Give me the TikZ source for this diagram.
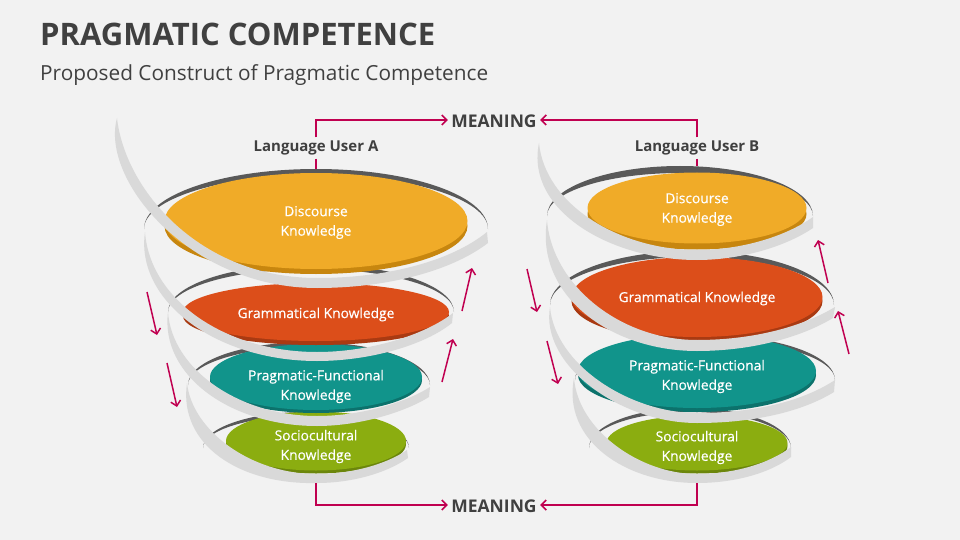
\documentclass[tikz,border=0pt]{standalone}
\usepackage{fontspec}
\setmainfont{Open Sans}
\newfontfamily\diskfont[FakeBold=0.5]{Open Sans}
\usetikzlibrary{shapes.geometric,arrows.meta}
\definecolor{paper}{HTML}{F2F2F2}
\definecolor{ink}{HTML}{404040}
\definecolor{ring}{HTML}{D9D9D9}
\definecolor{ringback}{HTML}{595959}
\definecolor{link}{HTML}{C00050}
\definecolor{orangetop}{HTML}{F0AB28}
\definecolor{orangeside}{HTML}{C7860F}
\definecolor{redtop}{HTML}{DC4E1A}
\definecolor{redside}{HTML}{A93A12}
\definecolor{tealtop}{HTML}{11948B}
\definecolor{tealside}{HTML}{0C726C}
\definecolor{greentop}{HTML}{8BAD10}
\definecolor{greenside}{HTML}{6B860B}
% back part of a ring: centre x, centre y, x radius, y radius, thickness
\newcommand{\backarc}[5]{\fill[ringback] (#1-#3,#2) arc[start angle=180,end angle=0,x radius=#3pt,y radius=#4pt] arc[start angle=0,end angle=180,x radius=#3pt,y radius=#4pt-#5pt] -- cycle;}
\begin{document}
\begin{tikzpicture}[x=1pt,y=-1pt,
	disktop/.style={ellipse,inner sep=0pt,fill=#1},
	disktext/.style={text=white,align=center,font=\fontsize{13.8}{19.5}\selectfont\diskfont},
	user/.style={text=ink,font=\fontsize{15}{18}\selectfont\bfseries},
	meaning/.style={text=ink,font=\fontsize{17.5}{20}\selectfont\bfseries},
	flow/.style={link,line width=1.5pt,->,>={Straight Barb[length=5pt,width=10pt]}}]
	\fill[paper] (0,0) rectangle (960,540);
	\useasboundingbox (0,0) rectangle (960,540);
	% title
	\node[anchor=west,inner sep=0pt,text=ink,font=\fontsize{31}{36}\selectfont\bfseries] (title) at (40,34) {PRAGMATIC COMPETENCE};
	\node[anchor=west,inner sep=0pt,text=ink,font=\fontsize{20.8}{24}\selectfont] (subtitle) at (40,75.5) {Proposed Construct of Pragmatic Competence};

	% user A, lowest level first
	\backarc{306}{448}{103}{36}{4}
	\node[disktop=greenside,minimum width=180pt,minimum height=59pt] (socioAside) at (316,444) {};
	\node[disktop=greentop,minimum width=180pt,minimum height=59pt] (socioAtop) at (316,441) {};
	\fill[ring] (187,383) .. controls (192,430) and (250,474) .. (317,474) .. controls (350,474) and (385,465) .. (407,450) -- (408,458) .. controls (385,474) and (350,483) .. (317,483) .. controls (240,485) and (178,445) .. (187,383) -- cycle;
	\backarc{309}{385}{121}{43}{5}
	\node[disktop=tealside,minimum width=212pt,minimum height=66pt] (pragAside) at (316,380) {};
	\node[disktop=tealtop,minimum width=212pt,minimum height=66pt] (pragAtop) at (316,377) {};
	\fill[ring] (168,312) .. controls (172,370) and (240,416) .. (317,416) .. controls (360,416) and (405,403) .. (430,387) -- (429,397) .. controls (405,412) and (360,426) .. (317,426) .. controls (230,426) and (160,375) .. (168,312) -- cycle;
	\backarc{311}{312}{143}{48}{5}
	\node[disktop=redside,minimum width=266pt,minimum height=58pt] (gramAside) at (316,316) {};
	\node[disktop=redtop,minimum width=266pt,minimum height=58pt] (gramAtop) at (316,312) {};
	\fill[ring] (145,232) .. controls (150,300) and (225,352) .. (317,352) .. controls (370,352) and (425,335) .. (453,313) -- (452,323) .. controls (425,345) and (370,361) .. (317,361) .. controls (215,361) and (135,300) .. (145,232) -- cycle;
	\backarc{316}{229}{172}{60}{6}
	\node[disktop=orangeside,minimum width=303pt,minimum height=96pt] (discAside) at (316,226) {};
	\node[disktop=orangetop,minimum width=303pt,minimum height=96pt] (discAtop) at (316,221) {};
	\fill[ring] (117,118) .. controls (125,190) and (200,278) .. (317,278) .. controls (385,278) and (450,262) .. (487,232) -- (488,243) .. controls (450,272) and (385,288) .. (317,288) .. controls (190,288) and (100,180) .. (117,118) -- cycle;

	% user B, lowest level first
	\backarc{690}{448}{101}{40}{4}
	\node[disktop=greenside,minimum width=181pt,minimum height=55pt] (socioBside) at (697,446) {};
	\node[disktop=greentop,minimum width=181pt,minimum height=55pt] (socioBtop) at (697,443) {};
	\fill[ring] (574,378) .. controls (578,430) and (640,474) .. (697,474) .. controls (735,474) and (770,463) .. (791,447) -- (791,457) .. controls (770,473) and (735,483) .. (697,483) .. controls (625,483) and (562,440) .. (574,378) -- cycle;
	\backarc{705}{380}{130}{45}{5}
	\node[disktop=tealside,minimum width=238pt,minimum height=74pt] (pragBside) at (697,375) {};
	\node[disktop=tealtop,minimum width=238pt,minimum height=74pt] (pragBtop) at (697,371) {};
	\fill[ring] (550,307) .. controls (555,365) and (630,413) .. (697,413) .. controls (750,413) and (800,403) .. (835,380) -- (834,392) .. controls (800,413) and (750,423) .. (697,423) .. controls (620,423) and (540,365) .. (550,307) -- cycle;
	\backarc{692}{305}{142}{54}{6}
	\node[disktop=redside,minimum width=251pt,minimum height=80pt] (gramBside) at (697,301) {};
	\node[disktop=redtop,minimum width=251pt,minimum height=80pt] (gramBtop) at (697,297) {};
	\fill[ring] (547,220) .. controls (552,285) and (620,340) .. (697,340) .. controls (750,340) and (800,328) .. (835,307) -- (833,318) .. controls (800,338) and (750,351) .. (697,351) .. controls (610,351) and (535,295) .. (547,220) -- cycle;
	\backarc{680}{216}{133}{50}{7}
	\node[disktop=orangeside,minimum width=219pt,minimum height=71pt] (discBside) at (697,214) {};
	\node[disktop=orangetop,minimum width=219pt,minimum height=71pt] (discBtop) at (697,208) {};
	\fill[ring] (539,143) .. controls (545,205) and (620,250) .. (697,250) .. controls (740,250) and (785,237) .. (813,217) -- (813,228) .. controls (785,247) and (740,260) .. (697,260) .. controls (610,260) and (525,210) .. (539,143) -- cycle;

	% disk labels
	\node[disktext] (discA) at (316,222.5) {Discourse\\Knowledge};
	\node[disktext] (gramA) at (316,314.5) {Grammatical Knowledge};
	\node[disktext] (pragA) at (316,386.5) {Pragmatic-Functional\\Knowledge};
	\node[disktext] (socioA) at (316,446.5) {Sociocultural\\Knowledge};
	\node[disktext] (discB) at (697,209.5) {Discourse\\Knowledge};
	\node[disktext] (gramB) at (697,298.5) {Grammatical Knowledge};
	\node[disktext] (pragB) at (697,376.5) {Pragmatic-Functional\\Knowledge};
	\node[disktext] (socioB) at (697,447.5) {Sociocultural\\Knowledge};

	% headings
	\node[user] (userA) at (316,148) {Language User A};
	\node[user] (userB) at (697,148) {Language User B};
	\node[meaning] (meaningtop) at (494,121) {MEANING};
	\node[meaning] (meaningbot) at (494,506) {MEANING};

	% connectors
	\coordinate (topA) at (316,169);
	\coordinate (topB) at (697,166);
	\coordinate (botA) at (316,483);
	\coordinate (botB) at (697,483);
	\coordinate (turnA) at (316,120);
	\coordinate (turnB) at (697,120);
	\coordinate (turnC) at (316,505);
	\coordinate (turnD) at (697,505);
	\draw[flow] (userA.north) -- (turnA) -- (turnA -| meaningtop.west);
	\draw[flow] (userB.north) -- (turnB) -- (turnB -| meaningtop.east);
	\draw[flow,-] (userA.south) -- (topA);
	\draw[flow,-] (userB.south) -- (topB);
	\draw[flow] (botA) -- (turnC) -- (turnC -| meaningbot.west);
	\draw[flow] (botB) -- (turnD) -- (turnD -| meaningbot.east);

	% small arrows round the rings
	\foreach \name/\sx/\sy/\ex/\ey in {a/147/292/157/335, b/167/363/177/407, c/442/382/453/339, d/462/311/472/268, e/527/269/537/312, f/547/341/558/384, g/849/354/838/311, h/828/283/818/240}{
		\coordinate (from\name) at (\sx,\sy);
		\coordinate (to\name) at (\ex,\ey);
		\draw[flow] (from\name) -- (to\name);
	}
\end{tikzpicture}
\end{document}
